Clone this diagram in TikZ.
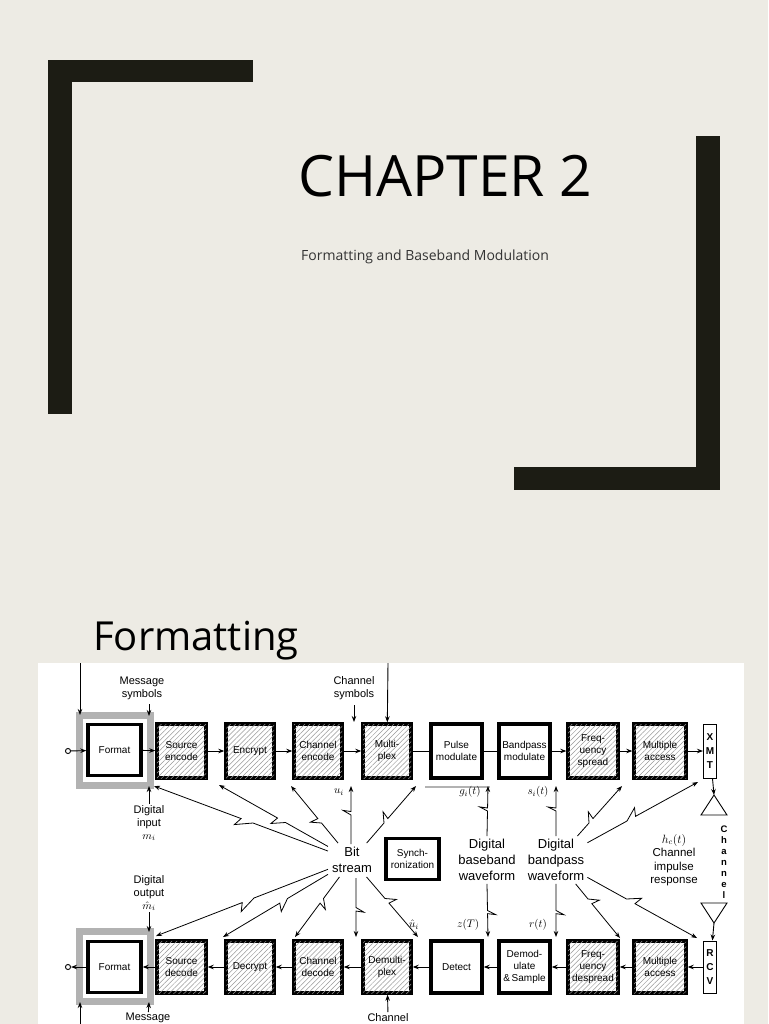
\documentclass[tikz,border=0pt]{standalone}
\usepackage{fontspec}
\setmainfont{Liberation Sans}
\newfontfamily\titlefont{Open Sans}
\usetikzlibrary{calc,patterns.meta,arrows.meta}
\definecolor{bg}{HTML}{EDEBE4}
\definecolor{bar}{HTML}{1C1C14}
\tikzset{
 bx/.style={draw,line width=3.4pt,fill=white,minimum height=54pt,inner sep=0pt,align=center,font=\fontsize{10}{12}\selectfont},
 hx/.style={bx,postaction={pattern={Lines[angle=45,distance=3.5pt,line width=0.5pt]},pattern color=gray!80}},
 ar/.style={-{Stealth[length=6pt,width=4.5pt]},line width=0.9pt},
 ln/.style={line width=0.9pt},
 lab/.style={align=center,font=\fontsize{11}{13}\selectfont,inner sep=1pt},
 big/.style={align=center,font=\fontsize{13}{16}\selectfont,inner sep=3pt},
 ml/.style={font=\fontsize{11}{12}\selectfont,inner sep=0},
 boltst/.style={-{Stealth[length=6pt,width=4.5pt]},line width=0.8pt},
}
\newcommand\bolt[2]{\draw[boltst] (#1) -- ($(#1)!0.5!(#2)$) -- ($(#1)!0.58!(#2)!8pt!90:(#2)$) -- ($(#1)!0.56!(#2)$) -- (#2);}
\begin{document}
\begin{tikzpicture}[x=1pt,y=-1pt]
\useasboundingbox[fill=bg] (0,0) rectangle (768,1024);
% brackets
\fill[bar] (48,60) rectangle (253,82);
\fill[bar] (48,60) rectangle (72,414);
\fill[bar] (696,136) rectangle (720,490);
\fill[bar] (514,467) rectangle (720,490);
\node[anchor=base west,inner sep=0,font=\titlefont\fontsize{57}{60}\selectfont] (title) at (298,197) {CHAPTER 2};
\node[anchor=base west,inner sep=0,font=\titlefont\fontsize{14}{15}\selectfont,text=black!80] (sub) at (301,260) {Formatting and Baseband Modulation};
\node[anchor=base west,inner sep=0,font=\titlefont\fontsize{40}{42}\selectfont] (fmt) at (93,650) {Formatting};
% diagram
\fill[white] (38,663) rectangle (744,1024);
\draw[gray!60,line width=7pt] (79,715) rectangle (150,785);
\draw[gray!60,line width=7pt] (79,931) rectangle (150,1001);
\node[bx,minimum width=53pt,minimum height=51pt] (f1) at (114.5,750) {Format};
\node[hx,minimum width=49pt] (se) at (181.5,751) {Source\\encode};
\node[hx,minimum width=48pt] (en) at (250,751) {Encrypt};
\node[hx,minimum width=48pt] (ce) at (318,751) {Channel\\encode};
\node[hx,minimum width=48pt] (mx) at (387,751) {Multi-\\plex};
\node[bx,minimum width=51pt] (pm) at (456.5,751) {Pulse\\modulate};
\node[bx,minimum width=51pt] (bm) at (524.5,751) {Bandpass\\modulate};
\node[hx,minimum width=50pt] (fs) at (593,751) {Freq-\\uency\\spread};
\node[hx,minimum width=52pt] (ma) at (660,751) {Multiple\\access};
\node[draw,line width=1pt,fill=white,minimum width=13pt,minimum height=54pt,inner sep=0,align=center,font=\bfseries\fontsize{10}{14}\selectfont] (xmt) at (710,751) {X\\M\\T};
\node[draw,circle,inner sep=1.8pt,line width=0.9pt] (in) at (68,751) {};
\draw[ar] (in) -- (f1);
\draw[ar] (f1) -- (se); \draw[ar] (se) -- (en); \draw[ar] (en) -- (ce); \draw[ar] (ce) -- (mx);
\draw[ln] (mx) -- (pm); \draw[ln] (pm) -- (bm);
\draw[ar] (bm) -- (fs); \draw[ar] (fs) -- (ma); \draw[ar] (ma) -- (xmt);
\draw[gray!60,line width=2pt] (425,787) -- (490,787);
% bottom row
\node[bx,minimum width=53pt,minimum height=51pt] (f2) at (114.5,967) {Format};
\node[hx,minimum width=49pt,minimum height=52pt] (sd) at (181.5,967) {Source\\decode};
\node[hx,minimum width=48pt,minimum height=52pt] (de) at (250,967) {Decrypt};
\node[hx,minimum width=48pt,minimum height=52pt] (cd) at (318,967) {Channel\\decode};
\node[hx,minimum width=48pt,minimum height=52pt] (dm) at (387,967) {Demulti-\\plex};
\node[bx,minimum width=51pt,minimum height=52pt] (dt) at (456.5,967) {Detect};
\node[bx,minimum width=51pt,minimum height=52pt] (ds) at (524.5,967) {Demod-\\ulate\\\&\,Sample};
\node[hx,minimum width=50pt,minimum height=52pt] (fd) at (593,967) {Freq-\\uency\\despread};
\node[hx,minimum width=52pt,minimum height=52pt] (mb) at (660,967) {Multiple\\access};
\node[draw,line width=1pt,fill=white,minimum width=13pt,minimum height=52pt,inner sep=0,align=center,font=\bfseries\fontsize{10}{14}\selectfont] (rcv) at (710,967) {R\\C\\V};
\node[draw,circle,inner sep=1.8pt,line width=0.9pt] (out) at (68,967) {};
\draw[ar] (f2) -- (out);
\draw[ar] (sd) -- (f2); \draw[ar] (de) -- (sd); \draw[ar] (cd) -- (de); \draw[ar] (dm) -- (cd);
\draw[ar] (dt) -- (dm); \draw[ar] (ds) -- (dt); \draw[ar] (fd) -- (ds); \draw[ar] (mb) -- (fd); \draw[ar] (rcv) -- (mb);
% channel
\coordinate (ta) at (714,795); \coordinate (tb) at (714,923);
\draw[line width=0.9pt,fill=white] (ta) -- (727,815) -- (701,815) -- cycle;
\draw[line width=0.9pt,fill=white] (tb) -- (727,903) -- (701,903) -- cycle;
\draw[ar] (xmt) -- (ta); \draw[ar] (tb) -- (rcv);
\node[align=center,inner sep=0,font=\bfseries\fontsize{9.5}{11}\selectfont] (chv) at (724,862) {C\\h\\a\\n\\n\\e\\l};
% top labels
\node[lab] (msym) at (142,688) {Message\\symbols};
\coordinate (m1a) at (149,704); \coordinate (m1b) at (149,716);
\draw[ar] (m1a) -- (m1b);
\node[lab] (dig1) at (149,823) {Digital\\input\\$m_i$};
\coordinate (d1b) at (149,786); \draw[ar] (dig1) -- (d1b);
\node[lab] (csym) at (354,688) {Channel\\symbols};
\coordinate (c1a) at (354,705); \coordinate (c1b) at (354,722);
\draw[ar] (c1a) -- (c1b);
\coordinate (tl1) at (80,663); \coordinate (tl2) at (80,715); \draw[ar] (tl1) -- (tl2);
\coordinate (tm1) at (388,663); \draw[ar] (tm1) -- (mx);
% bottom labels
\node[lab] (dig2) at (149,893) {Digital\\output\\$\hat m_i$};
\coordinate (d2b) at (149,932); \draw[ar] (dig2) -- (d2b);
\node[lab,anchor=north] (msg2) at (148,1012) {Message};
\coordinate (m2b) at (149,1002); \draw[ar] (msg2) -- (m2b);
\node[lab,anchor=north] (ch2) at (388,1012) {Channel};
\draw[ar] (ch2) -- (dm);
\coordinate (bl1) at (80,1024); \coordinate (bl2) at (80,1002); \draw[ar] (bl1) -- (bl2);
% center
\node[big,inner sep=4pt] (bs) at (352,860) {Bit\\stream};
\node[draw,line width=3.4pt,minimum width=53pt,minimum height=41pt,align=center,font=\fontsize{10}{12}\selectfont,inner sep=0] (sync) at (412.5,859) {Synch-\\ronization};
\node[big] (db) at (487,860) {Digital\\baseband\\waveform};
\node[big] (dp) at (556,860) {Digital\\bandpass\\waveform};
\node[lab,font=\fontsize{11.5}{13.5}\selectfont] (hc) at (674,860) {$h_c(t)$\\Channel\\impulse\\response};
\coordinate (t1) at (154,786); \coordinate (t2) at (219,785); \coordinate (t3) at (291,786);
\coordinate (t4) at (351,786); \coordinate (t5) at (416,786);
\coordinate (b1) at (156,936); \coordinate (b2) at (223,937); \coordinate (b3) at (295,937);
\coordinate (b4) at (356,937); \coordinate (b5) at (418,937);
\coordinate (bsN) at (351,844); \coordinate (bsS) at (356,878);
\bolt{bs}{t1} \bolt{bs}{t2} \bolt{bs}{t3} \bolt{bsN}{t4} \bolt{bs}{t5}
\bolt{bs}{b1} \bolt{bs}{b2} \bolt{bs}{b3} \bolt{bsS}{b4} \bolt{bs}{b5}
\node[ml] (ui) at (339,792) {$u_i$};
\node[ml] (uh) at (414,925) {$\hat u_i$};
\coordinate (g1) at (488,786); \coordinate (g2) at (488,937);
\coordinate (s1) at (556,786); \coordinate (s2) at (556,937);
\bolt{db.north}{g1} \bolt{db.south}{g2} \bolt{dp.north}{s1} \bolt{dp.south}{s2}
\node[ml] (gl) at (470,792) {$g_i(t)$};
\node[ml] (sl) at (538,792) {$s_i(t)$};
\node[ml] (zl) at (468,925) {$z(T)$};
\node[ml] (rl) at (538,925) {$r(t)$};
\coordinate (p1) at (622,786); \coordinate (p2) at (698,782);
\coordinate (p3) at (620,938); \coordinate (p4) at (697,938);
\bolt{dp}{p1} \bolt{dp}{p2} \bolt{dp}{p3} \bolt{dp}{p4}
\end{tikzpicture}
\end{document}
